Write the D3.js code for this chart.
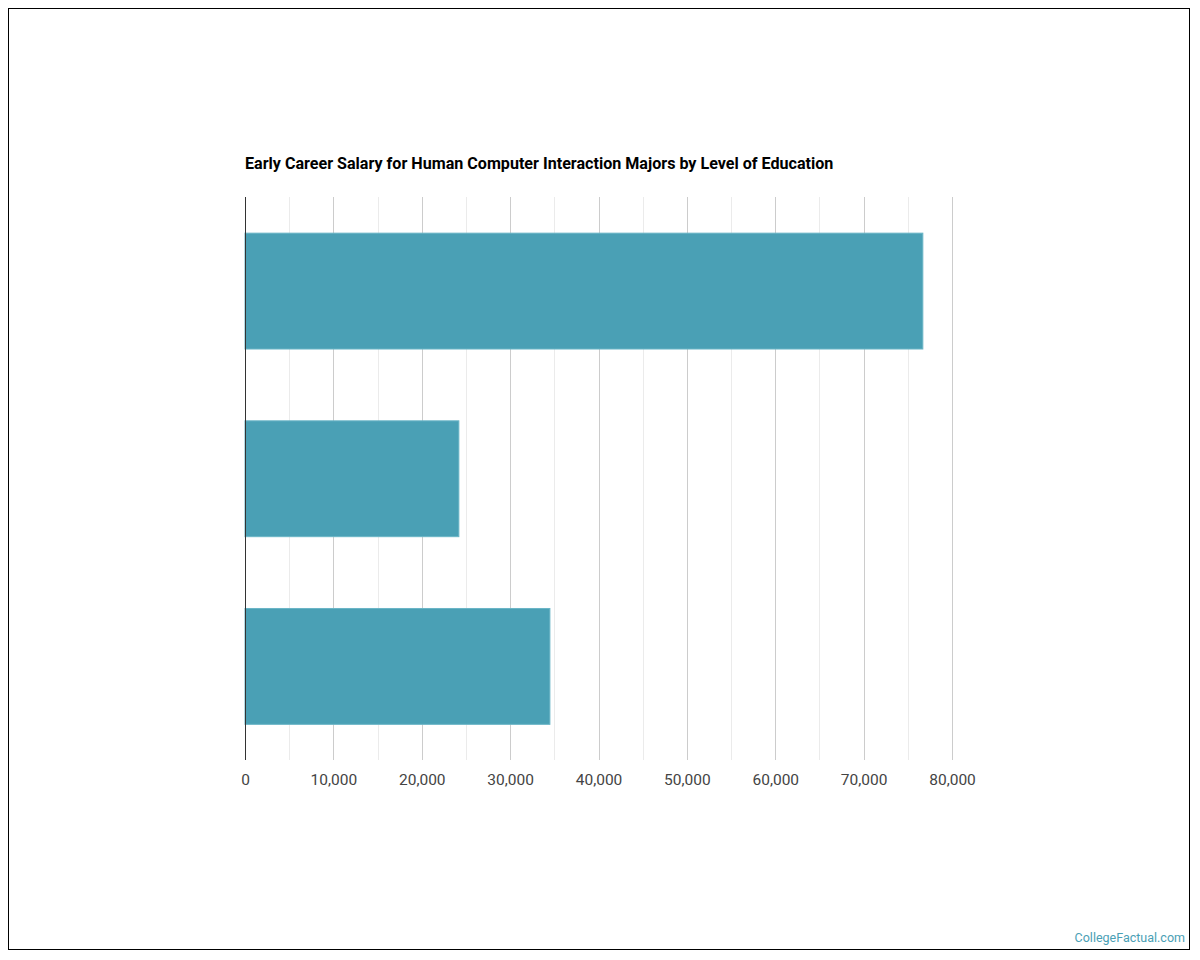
<!DOCTYPE html>
<html><head><meta charset="utf-8">
<script src="https://cdn.jsdelivr.net/npm/d3@7"></script>
<style>body{margin:0;background:#fff;}svg{display:block;font-family:Roboto,sans-serif;}</style>
</head><body><svg id="c" width="1200" height="960"></svg>
<script>
const categories = ["Master's Degree", "Associate Degree", "Bachelor's Degree"];
const salaries = [76700, 24200, 34500];
const majorTicks = [0, 10000, 20000, 30000, 40000, 50000, 60000, 70000, 80000];
const minorTicks = [5000, 15000, 25000, 35000, 45000, 55000, 65000, 75000];
const title = "Early Career Salary for Human Computer Interaction Majors by Level of Education";

const svg = d3.select("#c");
svg.append("rect").attr("x",8.5).attr("y",8.5).attr("width",1181).attr("height",941)
  .attr("fill","#fff").attr("stroke","#000").attr("stroke-width",1);

const x = d3.scaleLinear().domain([0,80000]).range([245,952]);
const y = d3.scaleBand().domain(categories).range([197,760]).paddingInner(0.38).paddingOuter(0.19);

svg.append("g").selectAll("line").data(minorTicks).join("line")
  .attr("x1",d=>Math.round(x(d))+0.5).attr("x2",d=>Math.round(x(d))+0.5)
  .attr("y1",197).attr("y2",760).attr("stroke","#ebebeb");
svg.append("g").selectAll("line").data(majorTicks.slice(1)).join("line")
  .attr("x1",d=>Math.round(x(d))+0.5).attr("x2",d=>Math.round(x(d))+0.5)
  .attr("y1",197).attr("y2",760).attr("stroke","#cccccc");

svg.append("g").selectAll("rect").data(salaries).join("rect")
  .attr("x",x(0)).attr("y",(d,i)=>y(categories[i])+0.5)
  .attr("width",d=>x(d)-x(0)).attr("height",y.bandwidth()-0.5)
  .attr("fill","#4aa0b5").attr("stroke","#6ab5c6").attr("stroke-width",1);

svg.append("line").attr("x1",245.5).attr("x2",245.5).attr("y1",197).attr("y2",760)
  .attr("stroke","#333");

const axis = d3.axisBottom(x).tickValues(majorTicks).tickFormat(d3.format(",")).tickSize(0).tickPadding(0);
const ag = svg.append("g").attr("transform","translate(0,785)").call(axis);
ag.select(".domain").remove();
ag.selectAll("text").attr("fill","#444").style("font-size","15.5px").style("font-family","Roboto").attr("dy","0");

svg.append("text").attr("x",245).attr("y",169).text(title)
  .style("font-size","16.1px").style("font-weight","bold").attr("fill","#000");

svg.append("text").attr("x",1185).attr("y",942).attr("text-anchor","end").text("CollegeFactual.com")
  .style("font-size","12.5px").attr("fill","#4aa0b5");
</script></body></html>
